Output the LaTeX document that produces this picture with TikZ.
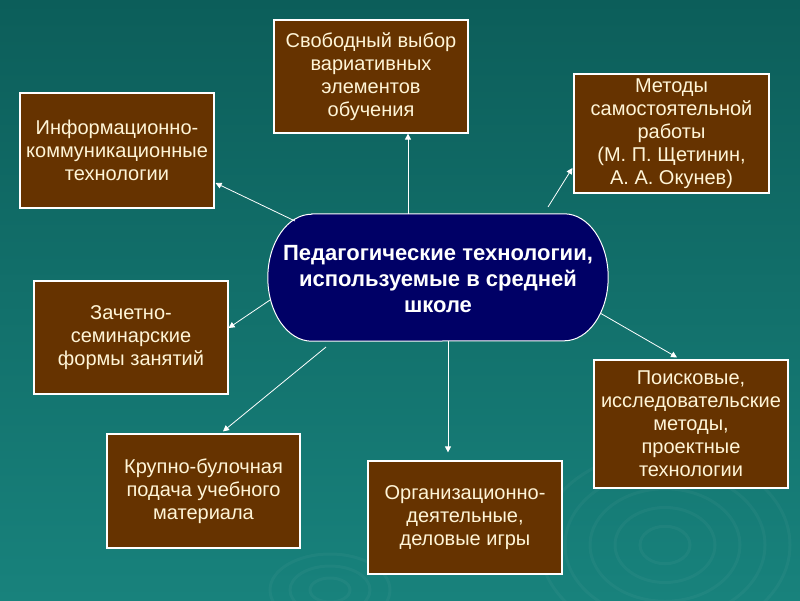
\documentclass[tikz,border=0pt]{standalone}
\usepackage{fontspec}
\setmainfont{Liberation Sans}
\usetikzlibrary{arrows.meta}
\definecolor{bgtop}{RGB}{12,94,90}
\definecolor{bgbot}{RGB}{24,130,124}
\definecolor{boxbrown}{RGB}{102,51,0}
\definecolor{navyc}{RGB}{0,0,102}
\definecolor{creamtext}{RGB}{255,245,215}
\begin{document}
\begin{tikzpicture}[x=1pt,y=-1pt,
  tbox/.style={draw=white, line width=1.2pt, fill=boxbrown, text=creamtext,
    align=center, inner sep=0pt, font=\fontsize{20}{23}\selectfont},
  arr/.style={draw=white, line width=0.8pt, -{Triangle[width=6pt,length=6pt]}},
  ripple/.style={draw=white, draw opacity=0.035, line width=3pt}]
\useasboundingbox (0,0) rectangle (800,600);
\shade[top color=bgtop, bottom color=bgbot] (0,0) rectangle (800,600);
% faint ripples
\foreach \r in {25,50,75,100,125}
  \draw[ripple] (665,545) ellipse [x radius=\r pt, y radius=0.75*\r pt];
\foreach \r in {20,40,60}
  \draw[ripple] (330,590) ellipse [x radius=\r pt, y radius=0.6*\r pt];

% boxes
\node[tbox, minimum width=194pt, minimum height=113pt] (top) at (371,76.5)
  {Свободный выбор\\вариативных\\элементов\\обучения};
\node[tbox, minimum width=194pt, minimum height=115pt] (info) at (117,150.5)
  {Информационно-\\коммуникационные\\технологии};
\node[tbox, minimum width=195pt, minimum height=119pt] (met) at (671.5,133.5)
  {Методы\\самостоятельной\\работы\\(М. П. Щетинин,\\А. А. Окунев)};
\node[tbox, minimum width=194pt, minimum height=113pt] (zach) at (131,337.5)
  {Зачетно-\\семинарские\\формы занятий};
\node[tbox, minimum width=194pt, minimum height=128pt] (poisk) at (691,424)
  {Поисковые,\\исследовательские\\методы,\\проектные\\технологии};
\node[tbox, minimum width=193pt, minimum height=114pt] (krup) at (203.5,491)
  {Крупно-булочная\\подача учебного\\материала};
\node[tbox, minimum width=194pt, minimum height=113pt] (org) at (465,517.5)
  {Организационно-\\деятельные,\\деловые игры};

% central shape
\node[minimum width=340pt, minimum height=127pt, inner sep=0pt] (c) at (438,277.5) {};
\filldraw[fill=navyc, draw=white, line width=1pt]
  ([xshift=44pt]c.north west) -- ([xshift=-44pt]c.north east)
  arc[start angle=90, end angle=-90, x radius=44pt, y radius=63.5pt]
  -- ([xshift=44pt]c.south west)
  arc[start angle=270, end angle=90, x radius=44pt, y radius=63.5pt] -- cycle;
\node[text=white, align=center, font=\bfseries\fontsize{22}{26}\selectfont]
  (ct) at ([yshift=-2pt]c.center)
  {Педагогические технологии,\\используемые в средней\\школе};

% connectors
\draw[arr] ([xshift=-30pt]c.north) -- ([xshift=-30pt]c.north |- top.south);
\draw[arr] ([shift={(-143pt,56.5pt)}]c.center) -- ([shift={(1pt,-32.5pt)}]info.east);
\draw[arr] ([shift={(110pt,70.5pt)}]c.center) -- ([shift={(-1pt,-34.5pt)}]met.west);
\draw[arr] ([shift={(-168pt,-22.5pt)}]c.center) -- ([shift={(0pt,9.5pt)}]zach.east);
\draw[arr] ([shift={(162pt,-35.5pt)}]c.center) -- ([shift={(-14pt,2pt)}]poisk.north);
\draw[arr] ([shift={(-112pt,-69.5pt)}]c.center) -- ([shift={(19.5pt,2pt)}]krup.north);
\draw[arr] ([xshift=10pt]c.south) -- ([shift={(-17pt,8pt)}]org.north);
\end{tikzpicture}
\end{document}
